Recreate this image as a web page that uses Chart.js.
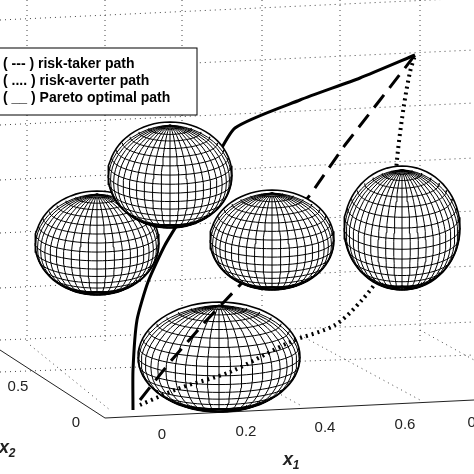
<!DOCTYPE html>
<html><head><meta charset="utf-8">
<script src="https://cdn.jsdelivr.net/npm/chart.js@4.4.0/dist/chart.umd.min.js"></script>
<style>html,body{margin:0;background:#fff}#c{width:474px;height:474px}</style>
</head><body><div id="c"><canvas id="chart" width="474" height="474"></canvas></div>
<script>
"use strict";
// everything is in plot units of a 474 x 474 projected view
const ellipsoids = [ // [cx, cy, rx, ry, drawOrder]
  [97, 243, 62, 52, 90],   // left
  [219, 357, 81, 55, 80],  // bottom
  [272, 240, 62, 50, 60],  // middle
  [170, 175, 62, 53, 50],  // top
  [402, 228, 58, 62, 40]   // right
];
const paretoPath = [[133,410],[133,370],[137,320],[148,282],[165,245],[185,212],[210,170],[235,128],[300,100],[360,78],[415,55]];
const takerPath = [[140,400],[170,362],[205,322],[240,285],[275,240],[310,195],[345,145],[380,100],[415,55]];
const averterPath = [[140,405],[180,388],[230,372],[290,342],[335,325],[362,300],[380,275],[390,240],[394,195],[398,150],[404,105],[410,72],[415,55]];
const wallRows = [20, 72, 125, 180, 233, 288];
const wallCols = [27, 105, 182, 262, 340, 420];
const x1Ticks = [[162,435,'0'],[246,432,'0.2'],[325,428,'0.4'],[405,425,'0.6'],[478,423,'0.8']];
const x2Ticks = [[18,387,'0.5'],[76,423,'0']];
const legendItems = ['( --- ) risk-taker path', '( .... ) risk-averter path', '( __ ) Pareto optimal path'];

const pts = a => a.map(p => ({x: p[0], y: p[1]}));
const datasets = [];

// back walls and floor grid
let grid = [];
wallRows.forEach(y => { grid.push({x:0,y:y},{x:474,y:y-22},{x:NaN,y:NaN}); });
wallCols.forEach(x => { grid.push({x:x,y:0},{x:x,y:345},{x:NaN,y:NaN}); });
[[0,372,474,355],[0,340,474,322],[30,345,110,410],[180,340,300,405],[300,335,420,400],[420,330,474,360]].forEach(l => {
  grid.push({x:l[0],y:l[1]},{x:l[2],y:l[3]},{x:NaN,y:NaN});
});
datasets.push({data: grid, borderColor:'#444', borderWidth:1, borderDash:[1,4], pointRadius:0, spanGaps:false, order:200});
datasets.push({data: pts([[0,350],[105,418],[474,400]]), borderColor:'#222', borderWidth:1, pointRadius:0, order:190});

ellipsoids.forEach(e => {
  const [cx, cy, rx, ry, ord] = e;
  const tilt = 0.35;
  let outline = [];
  for (let i = 0; i <= 72; i++) {
    const a = i / 72 * 2 * Math.PI;
    outline.push({x: cx + rx * Math.cos(a), y: cy + ry * Math.sin(a)});
  }
  datasets.push({data: outline, borderColor:'#000', borderWidth:1.6, backgroundColor:'#fff', fill:'shape', pointRadius:0, order:ord + 2});
  let mesh = [];
  const ryc = ry * Math.cos(tilt), ryt = ry * Math.sin(tilt);
  for (let j = -8; j <= 8; j++) {
    const t = j / 9 * Math.PI / 2;
    for (let i = 0; i <= 36; i++) {
      const a = i / 36 * Math.PI;
      mesh.push({x: cx + rx * Math.cos(t) * Math.cos(a), y: cy - ryc * Math.sin(t) + ryt * Math.cos(t) * Math.sin(a)});
    }
    mesh.push({x:NaN, y:NaN});
  }
  for (let k = 1; k < 22; k++) {
    const a = k / 22 * Math.PI;
    for (let j = -12; j <= 12; j++) {
      const t = j / 12 * Math.PI / 2;
      mesh.push({x: cx + rx * Math.cos(t) * Math.cos(a), y: cy - ryc * Math.sin(t) + ryt * Math.cos(t) * Math.sin(a)});
    }
    mesh.push({x:NaN, y:NaN});
  }
  datasets.push({data: mesh, borderColor:'#000', borderWidth:1, pointRadius:0, spanGaps:false, order:ord + 1});
});

datasets.push({data: pts(paretoPath), borderColor:'#000', borderWidth:3, pointRadius:0, tension:0.2, order:70});
datasets.push({data: pts(takerPath), borderColor:'#000', borderWidth:3, borderDash:[16,9], pointRadius:0, order:70});
datasets.push({data: pts(averterPath), borderColor:'#000', borderWidth:4, borderDash:[2,4], pointRadius:0, tension:0.3, order:70});

const labels = {
  id: 'labels',
  afterDraw(chart) {
    const c = chart.ctx;
    c.save();
    c.fillStyle = '#222';
    c.font = '15px "Liberation Sans", Arial, sans-serif';
    c.textAlign = 'center'; c.textBaseline = 'middle';
    x1Ticks.concat(x2Ticks).forEach(t => c.fillText(t[2], t[0], t[1]));
    c.font = 'bold italic 18px "Liberation Sans", Arial, sans-serif';
    c.fillText('x', 288, 460); c.fillText('x', 4, 448);
    c.font = 'bold italic 12px "Liberation Sans", Arial, sans-serif';
    c.fillText('1', 296, 466); c.fillText('2', 12, 454);
    // legend
    c.fillStyle = '#fff'; c.fillRect(-2, 48, 199, 67);
    c.strokeStyle = '#000'; c.lineWidth = 1; c.strokeRect(-2, 48, 199, 67);
    c.fillStyle = '#000'; c.textAlign = 'left';
    c.font = 'bold 14px "Liberation Sans", Arial, sans-serif';
    legendItems.forEach((s, i) => c.fillText(s, 3, 64 + i * 17));
    c.restore();
  }
};

new Chart(document.getElementById('chart'), {
  type: 'line',
  data: {datasets: datasets},
  plugins: [labels],
  options: {
    responsive: false, animation: false,
    layout: {padding: 0},
    plugins: {legend: {display: false}, tooltip: {enabled: false}},
    scales: {
      x: {type: 'linear', min: 0, max: 474, display: false},
      y: {type: 'linear', min: 0, max: 474, reverse: true, display: false}
    }
  }
});
</script></body></html>
